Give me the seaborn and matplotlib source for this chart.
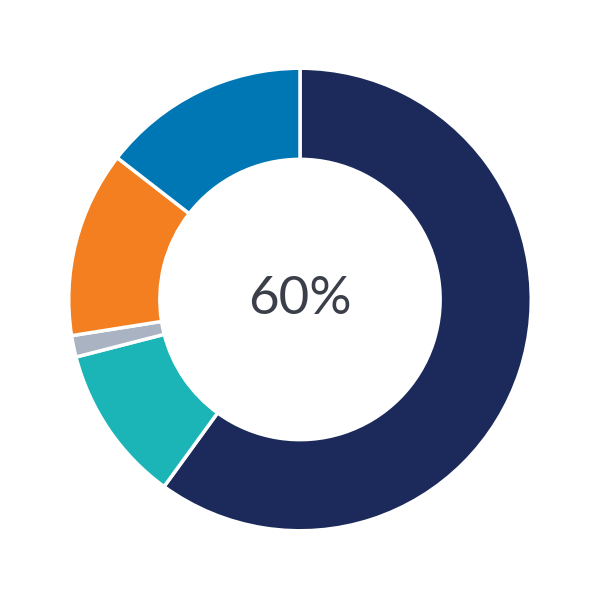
import matplotlib
matplotlib.use("Agg")
import matplotlib.pyplot as plt
import seaborn as sns

labels = ["Navy", "Teal", "Gray", "Orange", "Blue"]
shares = [60, 11, 1.5, 13.0, 14.5]
colors = ["#1b2a5a", "#1bb5b7", "#a9b3c1", "#f47f20", "#0077b5"]
center_label = "60%"

sns.set_theme(style="white")
plt.rcParams['font.family'] = ['Lato', 'DejaVu Sans']

fig, ax = plt.subplots(figsize=(6, 5.99), dpi=100)
fig.subplots_adjust(left=0, right=1, bottom=0, top=1)

ax.pie(shares, colors=colors, startangle=90, counterclock=False,
       radius=1.0,
       wedgeprops=dict(width=0.394, edgecolor="white", linewidth=2.5))
ax.text(0, 0, center_label, ha="center", va="center",
        fontsize=38, color="#3a3f4a")
ax.set_xlim(-1.295, 1.295)
ax.set_ylim(-1.295, 1.295)
ax.set_aspect("equal")
ax.axis("off")

fig.savefig("out.png", dpi=100, facecolor="white")
